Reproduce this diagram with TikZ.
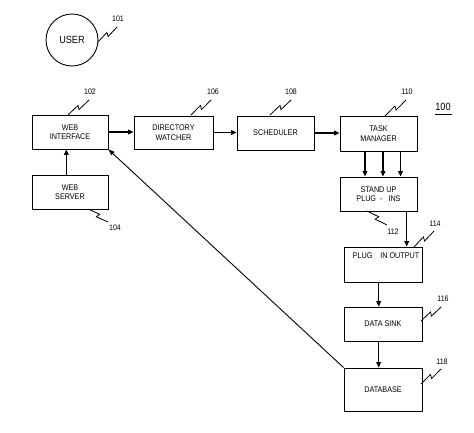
\documentclass[tikz,border=0pt]{standalone}
\usepackage{fontspec}
\setmainfont{Liberation Sans}[FakeStretch=0.88]
\usetikzlibrary{calc,arrows.meta}
\tikzset{
  box/.style={draw, line width=0.9pt, align=center, inner sep=0pt, font=\fontsize{8.2}{9.5}\selectfont},
  arr/.style={line width=1.2pt, -{Triangle[length=5.5pt,width=4.8pt]}},
  diag/.style={line width=0.9pt, -{Triangle[length=6pt,width=4.5pt]}},
  lead/.style={line width=0.8pt},
  num/.style={font=\fontsize{8}{9}\selectfont, inner sep=1pt}
}
\newcommand{\zigline}[2]{\draw[lead] (#1) -- ($(#1)!0.53!(#2)!2pt!90:(#2)$) -- ($(#1)!0.47!(#2)!2pt!-90:(#2)$) -- (#2);}
\begin{document}
\begin{tikzpicture}[x=1pt,y=-1pt]
\useasboundingbox (0,0) rectangle (474,432);
% user
\node[draw, circle, line width=0.9pt, minimum size=52pt, inner sep=0pt, font=\fontsize{10.4}{12}\selectfont] (user) at (72,40) {USER};
% boxes
\node[box, minimum width=76pt, minimum height=34pt] (wi) at (70,132) {WEB\\INTERFACE};
\node[box, minimum width=79pt, minimum height=33pt] (dw) at (173.5,132.5) {DIRECTORY\\WATCHER};
\node[box, minimum width=77pt, minimum height=34pt] (sch) at (275.5,133) {SCHEDULER};
\node[box, minimum width=77pt, minimum height=35pt] (tm) at (378.5,133.5) {TASK\\MANAGER};
\node[box, minimum width=76pt, minimum height=34pt] (ws) at (70,192) {WEB\\SERVER};
\node[box, minimum width=77pt, minimum height=34pt] (su) at (378.5,194) {STAND UP\\PLUG\ \ -\ \ \ INS};
\node[box, minimum width=78pt, minimum height=35pt] (po) at (383,264.5) {};
\node[box, anchor=north, minimum width=0pt, minimum height=0pt, draw=none] (pot) at (386,252) {PLUG\ \ \ \ IN OUTPUT};
\node[box, minimum width=78pt, minimum height=34pt] (ds) at (383,324) {DATA SINK};
\node[box, minimum width=78pt, minimum height=43pt] (db) at (383,389.5) {\raisebox{-6pt}{DATABASE}};
% helper x positions
\coordinate (x1) at (365,0);
\coordinate (x2) at (383,0);
\coordinate (x3) at (400.5,0);
\coordinate (x4) at (406.7,0);
\coordinate (x5) at (378.7,0);
\coordinate (x6) at (66.3,0);
% arrows
\draw[arr] (wi.east) -- (wi.east -| dw.west);
\draw[arr] (dw.east) -- (dw.east -| sch.west);
\draw[arr] (sch.east) -- (sch.east -| tm.west);
\draw[arr] (ws.north -| x6) -- (wi.south -| x6);
\draw[arr] (tm.south -| x1) -- (su.north -| x1);
\draw[arr] (tm.south -| x2) -- (su.north -| x2);
\draw[arr] (tm.south -| x3) -- (su.north -| x3);
\draw[arr] (su.south -| x4) -- (po.north -| x4);
\draw[arr] (po.south -| x5) -- (ds.north -| x5);
\draw[arr] (ds.south -| x5) -- (db.north -| x5);
\draw[diag] (db.north west) -- (wi.south east);
% lead lines
\coordinate (a101) at (98,42);  \coordinate (b101) at (117,27);
\coordinate (a102) at (68,115); \coordinate (b102) at (89,100);
\coordinate (a106) at (191,115); \coordinate (b106) at (211,100);
\coordinate (a108) at (270,115); \coordinate (b108) at (291,100);
\coordinate (a110) at (385,116); \coordinate (b110) at (406,100);
\coordinate (a104) at (88,209); \coordinate (b104) at (108,222);
\coordinate (a112) at (367,211); \coordinate (b112) at (387,225);
\coordinate (a114) at (414,247); \coordinate (b114) at (434,231);
\coordinate (a116) at (421,321); \coordinate (b116) at (441,307);
\coordinate (a118) at (421,384); \coordinate (b118) at (441,369);
\zigline{a101}{b101}
\zigline{a102}{b102}
\zigline{a106}{b106}
\zigline{a108}{b108}
\zigline{a110}{b110}
\zigline{a104}{b104}
\zigline{a112}{b112}
\zigline{a114}{b114}
\zigline{a116}{b116}
\zigline{a118}{b118}
% numbers
\node[num] (n101) at (118,19) {101};
\node[num] (n102) at (90,92) {102};
\node[num] (n106) at (213,92) {106};
\node[num] (n108) at (291,92) {108};
\node[num] (n110) at (407,92) {110};
\node[num] (n104) at (115,228) {104};
\node[num] (n112) at (393,232) {112};
\node[num] (n114) at (435,224) {114};
\node[num] (n116) at (443,299) {116};
\node[num] (n118) at (442,362) {118};
\node[font=\fontsize{10.5}{12}\selectfont, inner sep=0pt] (n100) at (443,107) {100};
\coordinate (u1) at (435,114);
\coordinate (u2) at (451.5,114);
\draw[line width=0.9pt] (u1) -- (u2);
\end{tikzpicture}
\end{document}
